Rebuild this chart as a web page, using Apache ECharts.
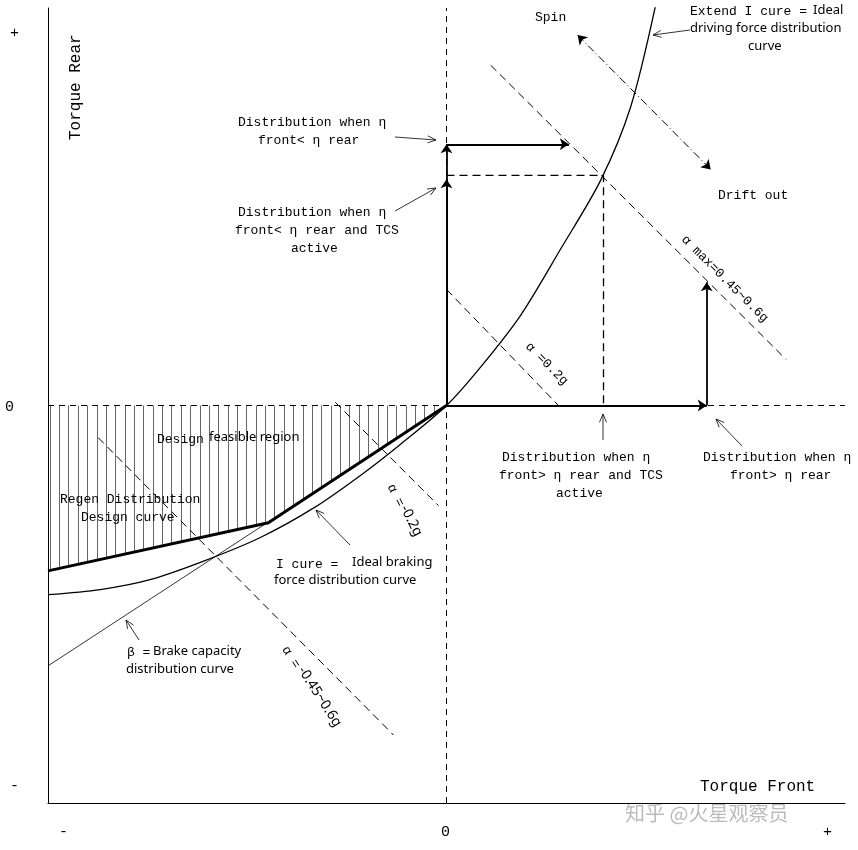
<!DOCTYPE html>
<html><head><meta charset="utf-8">
<script src="https://cdn.jsdelivr.net/npm/echarts@6/dist/echarts.min.js"></script>
<style>html,body{margin:0;background:#fff}#c{width:858px;height:850px}</style>
</head><body><div id="c"></div>
<script>
// data in normalized units: x = torque front, y = torque rear (origin = 0)
const I_CURVE = [[-1,-0.476],[-0.869,-0.463],[-0.744,-0.438],[-0.606,-0.39],[-0.467,-0.332],[-0.332,-0.257],[-0.216,-0.176],[-0.116,-0.098],[0,0],[0.085,0.096],[0.186,0.227],[0.286,0.393],[0.387,0.567],[0.462,0.751],[0.525,1.008]];
const REGEN_CURVE = [[-1,-0.416],[-0.447,-0.295],[0,0]];
const BRAKE_CAP = [[-1,-0.655],[0,0]];
const ALPHA_NEG_HIGH = [[-0.874,-0.081],[-0.133,-0.829]];
const ALPHA_NEG_LOW = [[-0.279,0.008],[-0.02,-0.252]];
const ALPHA_POS_LOW = [[0,0.292],[0.281,0]];
const ALPHA_MAX = [[0.111,0.856],[0.852,0.116]];
const SPIN_DRIFT = [[0.329,0.932],[0.663,0.594]];
const TCS_FRONT_LT = [0.394,0.579];   // dashed box corner
const FRONT_LT = [0.307,0.657];       // solid box corner
const FRONT_GT = [0.653,0.31];

function interp(c,x){for(let i=0;i<c.length-1;i++){const a=c[i],b=c[i+1];if(x>=a[0]&&x<=b[0]){return a[1]+(b[1]-a[1])*(x-a[0])/(b[0]-a[0]);}}return 0;}
const hatch=[];
for(let x=-0.995;x<0;x+=0.0235){hatch.push({coords:[[x,0],[x,interp(REGEN_CURVE,x)]]});}

const blk='#000';
function line(data,w,type,smooth){return {type:'line',data,showSymbol:false,smooth:smooth||false,lineStyle:{color:blk,width:w,type:type||'solid'},silent:true,z:3};}
function arrows(list,w,type,sym){return {type:'lines',coordinateSystem:'cartesian2d',symbol:sym||['none','arrow'],symbolSize:9,lineStyle:{color:blk,width:w,type:type||'solid',opacity:1},data:list.map(c=>({coords:c})),silent:true,z:4};}

const mono='Liberation Mono', sans='Noto Sans';
function T(x,y,text,size){return {type:'text',x,y,style:{text,fill:'#000',font:(size||13)+'px "'+mono+'"'}};}
function S(x,y,text,rot){return {type:'text',x,y,rotation:rot||0,style:{text,fill:'#000',font:'13px "'+sans+'"'}};}
function CA(x1,y1,x2,y2){
  const a=Math.atan2(y2-y1,x2-x1),L=9,s=0.4;
  return [{type:'line',shape:{x1,y1,x2,y2},style:{stroke:'#000',lineWidth:0.8}},
  {type:'polyline',shape:{points:[[x2-L*Math.cos(a-s),y2-L*Math.sin(a-s)],[x2,y2],[x2-L*Math.cos(a+s),y2-L*Math.sin(a+s)]]},style:{stroke:'#000',lineWidth:0.8,fill:null}}];
}
const graphics=[
  T(10,26,'+',15),T(5,400,'0',15),T(10,779,'-',15),T(59,825,'-',15),T(441,825,'0',15),T(823,825,'+',15),
  {type:'text',x:68,y:140,rotation:Math.PI/2,style:{text:'Torque Rear',fill:'#000',font:'16px "Liberation Mono"'}},
  {type:'text',x:700,y:779,style:{text:'Torque Front',fill:'#000',font:'16px "Liberation Mono"'}},
  T(238,116,'Distribution when η'),T(258,134,'front< η rear'),
  T(238,206,'Distribution when η'),T(235,224,'front< η rear and TCS'),T(291,242,'active'),
  T(502,451,'Distribution when η'),T(499,469,'front> η rear and TCS'),T(556,487,'active'),
  T(703,451,'Distribution when η'),T(730,469,'front> η rear'),
  T(690,5,'Extend I cure ='), S(813,4,'Ideal'),S(690,22,'driving force distribution'),S(748,40,'curve'),
  T(535,11,'Spin'),T(718,189,'Drift out'),
  T(157,433,'Design'),S(209,431,'feasible region'),
  T(60,493,'Regen Distribution'),T(81,511,'Design curve'),
  T(276,558,'I cure ='),S(352,556,'Ideal braking'),S(274,574,'force distribution curve'),
  T(127,646,'β ='),S(153,645,'Brake capacity'),S(126,663,'distribution curve'),
  {type:'text',x:532,y:340,rotation:-Math.PI/4,style:{text:'α =0.2g',fill:'#000',font:'13px "Liberation Mono"'}},
  {type:'text',x:688,y:233,rotation:-Math.PI/4,style:{text:'α max=0.45~0.6g',fill:'#000',font:'13px "Liberation Mono"'}},
  {type:'text',x:396,y:482,rotation:-1.1,style:{text:'α =',fill:'#000',font:'13px "Liberation Mono"'}},
  {type:'text',x:410,y:503,rotation:-1.1,style:{text:'-0.2g',fill:'#000',font:'14px "Noto Sans"'}},
  {type:'text',x:290,y:644,rotation:-1.0,style:{text:'α =',fill:'#000',font:'13px "Liberation Mono"'}},
  {type:'text',x:307,y:664,rotation:-1.0,style:{text:'-0.45~0.6g',fill:'#000',font:'14px "Noto Sans"'}},
  {type:'text',x:625,y:803,style:{text:'知乎 @火星观察员',fill:'#bbb',font:'20px "Noto Sans CJK SC"'}},
  ...CA(395,137,436,140),...CA(395,211,436,188),...CA(603,440,603,414),...CA(742,446,716,419),
  ...CA(690,30,653,35),...CA(350,545,316,510),...CA(139,640,126,620)
];

const chart=echarts.init(document.getElementById('c'));
chart.setOption({
  animation:false,
  grid:{left:48,right:13,top:8,bottom:47},
  xAxis:{type:'value',min:-1,max:1,axisLine:{onZero:false,lineStyle:{color:'#000',width:1}},axisTick:{show:false},axisLabel:{show:false},splitLine:{show:false}},
  yAxis:{type:'value',min:-1,max:1,axisLine:{show:true,onZero:false,lineStyle:{color:'#000',width:1}},axisTick:{show:false},axisLabel:{show:false},splitLine:{show:false}},
  series:[
    {type:'lines',coordinateSystem:'cartesian2d',lineStyle:{color:'#000',width:0.6,opacity:1},data:hatch,silent:true,z:2},
    line([[-1,0],[1,0]],1,[6,5]),
    line([[0,-1],[0,1]],1,[6,5]),
    line(I_CURVE,1.3,'solid',0.3),
    line(REGEN_CURVE,3),
    line(BRAKE_CAP,0.8),
    line(ALPHA_NEG_HIGH,1,[8,5]),
    line(ALPHA_NEG_LOW,1,[8,5]),
    line(ALPHA_POS_LOW,1,[8,5]),
    line(ALPHA_MAX,1,[8,5]),
    line([[0,TCS_FRONT_LT[1]],TCS_FRONT_LT,[TCS_FRONT_LT[0],0]],1.3,[8,5]),
    arrows([SPIN_DRIFT],1,[8,3,1,3],['arrow','arrow']),
    arrows([[[0,0],[0,FRONT_LT[1]]],[[0,0],[0,TCS_FRONT_LT[1]-0.01]],[[0,FRONT_LT[1]],FRONT_LT],[[0,0],[FRONT_GT[0],0]],[[FRONT_GT[0],0],FRONT_GT]],1.8)
  ],
  graphic:graphics
});
</script></body></html>
